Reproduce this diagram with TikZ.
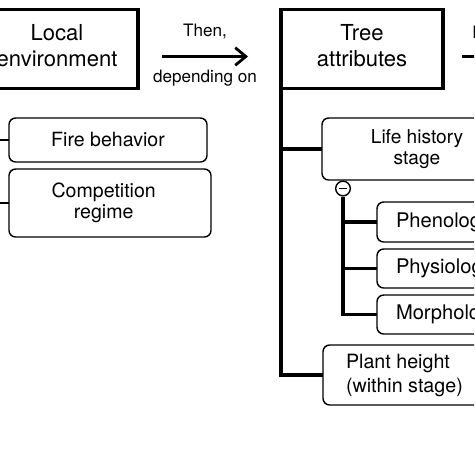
\documentclass[tikz,border=0pt]{standalone}
\usepackage{fontspec}
\setmainfont{TeX Gyre Heros}
\usepackage{tikz}
\usetikzlibrary{arrows.meta, positioning, calc}

\tikzstyle{mainbox} = [rectangle, draw=black, line width=2.6pt, outer sep=0pt, minimum width=4.86cm, minimum height=2.36cm, align=center, text depth=6pt, font=\fontsize{18.8}{22}\selectfont]
\tikzstyle{subbox} = [rectangle, rounded corners=0.2cm, draw=black, line width=1.2pt, outer sep=0pt, align=center, font=\fontsize{16.7}{17.5}\selectfont]
\tikzstyle{traitbox} = [subbox, align=left, anchor=west, inner xsep=0.57cm, font=\fontsize{17.2}{18}\selectfont]
\tikzstyle{trunk} = [line width=2.7pt]
\tikzstyle{twig} = [line width=1.8pt]
\tikzstyle{arrow} = [line width=2.4pt, -{Straight Barb[length=9pt, width=15pt]}]
\tikzstyle{arrowlabel} = [font=\fontsize{14.6}{17}\selectfont]

\begin{document}
\begin{tikzpicture}[x=0.03cm, y=-0.03cm, node distance=0.21cm]
    \clip (0,0) rectangle (474,474);

    % top row
    \node (env) [mainbox] at (57,48.8) {Local\\environment};
    \node (tree) [mainbox, right=4.29cm of env] {Tree\\attributes};
    \node (nextlabel) [arrowlabel, anchor=west] at (468,32) {I};
    \coordinate (nextbox) at (560,56.5);

    % local environment factors
    \node (fire) [subbox, minimum width=5.94cm, minimum height=1.32cm] at (108,140) {Fire behavior};
    \node (comp) [subbox, minimum width=6.06cm, minimum height=2.04cm, below=of fire, xshift=0.06cm,
        label={[name=comptext, align=center, font=\fontsize{16.7}{17.5}\selectfont, xshift=-0.19cm]center:Competition\\regime}] {};
    \coordinate (envbus) at (-15,0);

    % tree attributes
    \node (life) [subbox, font=\fontsize{16.3}{18.5}\selectfont, minimum width=5.7cm, minimum height=1.86cm] at (417,149) {Life history\\stage};
    \node (minus) [circle, draw=black, line width=1.2pt, fill=white, inner sep=0pt, minimum size=0.44cm,
        path picture={\draw[line width=1.1pt] ([xshift=-0.11cm]path picture bounding box.center) -- ([xshift=0.11cm]path picture bounding box.center);}] at (343,188.5) {};
    \node (pheno) [traitbox, minimum height=1.2cm] at (377,222) {Phenology};
    \node (physio) [traitbox, minimum height=1.17cm, below=of pheno.south west, anchor=north west] {Physiology};
    \node (morph) [traitbox, minimum height=1.17cm, below=of physio.south west, anchor=north west] {Morphology};
    \node (plant) [subbox, font=\fontsize{16.8}{20.5}\selectfont, align=left, anchor=west, inner xsep=0.69cm, minimum height=1.8cm] at (323,375) {Plant height\\(within stage)};

    % arrows
    \draw [arrow] ($(env.east)+(24,7.7)$) -- node[arrowlabel, midway, yshift=0.735cm] {Then,}
        node[arrowlabel, midway, yshift=-0.645cm] {depending on} ($(tree.west)+(-33,7.7)$);
    \draw [arrow] ($(tree.east)+(19,7.7)$) -- (nextbox);

    % branches
    \draw [twig] (fire.west) -- (fire.west -| envbus);
    \draw [twig] (comp.west) -- (comp.west -| envbus);
    \draw [trunk] (tree.south west) |- (plant.west);
    \draw [trunk] (life.west) -- (life.west -| tree.south west);
    \draw [trunk] (minus.south) |- (morph.west);
    \draw [trunk] (pheno.west) -- (pheno.west -| minus.south);
    \draw [trunk] (physio.west) -- (physio.west -| minus.south);
\end{tikzpicture}
\end{document}
